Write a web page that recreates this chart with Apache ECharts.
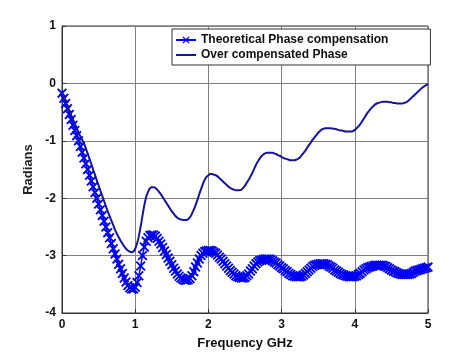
<!DOCTYPE html>
<html>
<head>
<meta charset="utf-8">
<script src="https://cdn.jsdelivr.net/npm/echarts@6/dist/echarts.min.js"></script>
<style>
html,body{margin:0;padding:0;background:#fff;}
#chart{width:474px;height:355px;}
</style>
</head>
<body>
<div id="chart"></div>
<script>
// Frequency samples (GHz)
var freq = [
0.000,0.025,0.050,0.075,0.100,0.125,0.150,0.175,0.200,0.225,0.250,0.275,0.300,0.325,0.350,0.375,0.400,0.425,0.450,0.475,
0.500,0.525,0.550,0.575,0.600,0.625,0.650,0.675,0.700,0.725,0.750,0.775,0.800,0.825,0.850,0.875,0.900,0.925,0.950,0.975,
1.000,1.025,1.050,1.075,1.100,1.125,1.150,1.175,1.200,1.225,1.250,1.275,1.300,1.325,1.350,1.375,1.400,1.425,1.450,1.475,
1.500,1.525,1.550,1.575,1.600,1.625,1.650,1.675,1.700,1.725,1.750,1.775,1.800,1.825,1.850,1.875,1.900,1.925,1.950,1.975,
2.000,2.025,2.050,2.075,2.100,2.125,2.150,2.175,2.200,2.225,2.250,2.275,2.300,2.325,2.350,2.375,2.400,2.425,2.450,2.475,
2.500,2.525,2.550,2.575,2.600,2.625,2.650,2.675,2.700,2.725,2.750,2.775,2.800,2.825,2.850,2.875,2.900,2.925,2.950,2.975,
3.000,3.025,3.050,3.075,3.100,3.125,3.150,3.175,3.200,3.225,3.250,3.275,3.300,3.325,3.350,3.375,3.400,3.425,3.450,3.475,
3.500,3.525,3.550,3.575,3.600,3.625,3.650,3.675,3.700,3.725,3.750,3.775,3.800,3.825,3.850,3.875,3.900,3.925,3.950,3.975,
4.000,4.025,4.050,4.075,4.100,4.125,4.150,4.175,4.200,4.225,4.250,4.275,4.300,4.325,4.350,4.375,4.400,4.425,4.450,4.475,
4.500,4.525,4.550,4.575,4.600,4.625,4.650,4.675,4.700,4.725,4.750,4.775,4.800,4.825,4.850,4.875,4.900,4.925,4.950,4.975,
5.000];

// Theoretical Phase compensation (radians)
var theoretical = [
-0.17,-0.26,-0.35,-0.44,-0.54,-0.63,-0.73,-0.82,-0.91,-1.00,-1.10,-1.20,-1.30,-1.40,-1.50,-1.60,-1.70,-1.80,-1.90,-2.00,
-2.10,-2.20,-2.30,-2.40,-2.50,-2.60,-2.69,-2.79,-2.88,-2.97,-3.06,-3.15,-3.23,-3.31,-3.39,-3.46,-3.52,-3.56,-3.58,-3.58,
-3.55,-3.47,-3.35,-3.18,-3.00,-2.85,-2.75,-2.69,-2.65,-2.64,-2.64,-2.66,-2.70,-2.75,-2.80,-2.86,-2.92,-2.98,-3.04,-3.10,
-3.16,-3.22,-3.27,-3.32,-3.36,-3.39,-3.41,-3.43,-3.43,-3.42,-3.40,-3.35,-3.28,-3.20,-3.13,-3.06,-3.00,-2.96,-2.93,-2.92,
-2.91,-2.91,-2.92,-2.94,-2.96,-2.99,-3.03,-3.06,-3.10,-3.14,-3.18,-3.22,-3.26,-3.29,-3.32,-3.35,-3.37,-3.38,-3.39,-3.39,
-3.38,-3.35,-3.32,-3.27,-3.23,-3.18,-3.14,-3.11,-3.09,-3.08,-3.07,-3.06,-3.06,-3.06,-3.07,-3.09,-3.11,-3.13,-3.16,-3.18,
-3.21,-3.23,-3.26,-3.28,-3.31,-3.33,-3.35,-3.36,-3.37,-3.37,-3.37,-3.36,-3.34,-3.31,-3.28,-3.25,-3.22,-3.19,-3.17,-3.16,
-3.15,-3.14,-3.14,-3.14,-3.15,-3.16,-3.18,-3.20,-3.22,-3.25,-3.27,-3.29,-3.31,-3.33,-3.34,-3.35,-3.36,-3.37,-3.37,-3.37,
-3.36,-3.35,-3.33,-3.31,-3.28,-3.25,-3.23,-3.21,-3.20,-3.19,-3.18,-3.17,-3.17,-3.17,-3.17,-3.17,-3.18,-3.19,-3.21,-3.23,
-3.25,-3.27,-3.28,-3.30,-3.31,-3.32,-3.33,-3.33,-3.33,-3.33,-3.32,-3.31,-3.29,-3.27,-3.26,-3.25,-3.24,-3.23,-3.22,-3.21,
-3.20];

// Over compensated Phase (radians)
var overComp = [
-0.17,-0.24,-0.32,-0.40,-0.48,-0.55,-0.63,-0.70,-0.78,-0.85,-0.92,-0.98,-1.05,-1.13,-1.22,-1.31,-1.40,-1.50,-1.59,-1.69,
-1.78,-1.87,-1.96,-2.05,-2.14,-2.23,-2.31,-2.39,-2.47,-2.55,-2.62,-2.68,-2.74,-2.79,-2.84,-2.88,-2.91,-2.93,-2.94,-2.93,
-2.88,-2.79,-2.66,-2.49,-2.30,-2.12,-1.98,-1.89,-1.83,-1.81,-1.81,-1.82,-1.85,-1.89,-1.93,-1.98,-2.03,-2.08,-2.13,-2.18,
-2.23,-2.27,-2.31,-2.34,-2.36,-2.37,-2.38,-2.38,-2.38,-2.36,-2.33,-2.27,-2.20,-2.12,-2.03,-1.93,-1.84,-1.75,-1.68,-1.63,
-1.60,-1.58,-1.58,-1.59,-1.60,-1.62,-1.65,-1.68,-1.71,-1.74,-1.77,-1.80,-1.82,-1.84,-1.85,-1.86,-1.86,-1.86,-1.85,-1.82,
-1.78,-1.73,-1.68,-1.62,-1.56,-1.49,-1.42,-1.36,-1.31,-1.27,-1.24,-1.22,-1.21,-1.21,-1.21,-1.21,-1.22,-1.23,-1.25,-1.26,
-1.28,-1.30,-1.31,-1.32,-1.33,-1.34,-1.34,-1.34,-1.33,-1.31,-1.29,-1.25,-1.21,-1.17,-1.12,-1.07,-1.03,-0.98,-0.94,-0.90,
-0.86,-0.83,-0.80,-0.79,-0.78,-0.78,-0.78,-0.78,-0.79,-0.79,-0.80,-0.81,-0.82,-0.82,-0.83,-0.84,-0.84,-0.84,-0.84,-0.83,
-0.81,-0.78,-0.75,-0.71,-0.66,-0.61,-0.56,-0.51,-0.47,-0.43,-0.40,-0.37,-0.35,-0.34,-0.33,-0.32,-0.32,-0.32,-0.32,-0.33,
-0.33,-0.34,-0.34,-0.35,-0.35,-0.35,-0.35,-0.34,-0.33,-0.31,-0.28,-0.25,-0.22,-0.19,-0.16,-0.13,-0.10,-0.07,-0.05,-0.03,
-0.01];

var seriesNames = ['Theoretical Phase compensation', 'Over compensated Phase'];
var xAxisName = 'Frequency GHz';
var yAxisName = 'Radians';

function pairs(xs, ys) {
  var out = [];
  for (var i = 0; i < xs.length; i++) out.push([xs[i], ys[i]]);
  return out;
}

var xMark = 'path://M0,1.3L1.3,0L5,3.7L8.7,0L10,1.3L6.3,5L10,8.7L8.7,10L5,6.3L1.3,10L0,8.7L3.7,5Z';
var fontFam = '"Liberation Sans", Arial, Helvetica, sans-serif';

var chart = echarts.init(document.getElementById('chart'), null, {renderer: 'canvas'});
chart.setOption({
  backgroundColor: '#ffffff',
  animation: false,
  grid: {
    left: 62, right: 46, top: 26, bottom: 39,
    show: true, borderColor: '#333333', borderWidth: 1, backgroundColor: 'transparent'
  },
  legend: {
    orient: 'vertical',
    left: 172, top: 29,
    padding: [5, 42, 4, 3],
    itemGap: 3,
    itemWidth: 20, itemHeight: 9,
    backgroundColor: '#ffffff',
    borderColor: '#333333', borderWidth: 1, borderRadius: 0,
    textStyle: {fontFamily: fontFam, fontWeight: 'bold', fontSize: 12, color: '#111111'},
    data: [
      {name: seriesNames[0]},
      {name: seriesNames[1], itemStyle: {opacity: 0}}
    ]
  },
  xAxis: {
    type: 'value', min: 0, max: 5, interval: 1,
    name: xAxisName, nameLocation: 'middle', nameGap: 24,
    nameTextStyle: {fontFamily: fontFam, fontWeight: 'bold', fontSize: 13, color: '#111111'},
    axisLine: {show: true, onZero: false, lineStyle: {color: '#333333'}},
    axisTick: {show: true, inside: true, length: 4, lineStyle: {color: '#333333'}},
    axisLabel: {fontFamily: fontFam, fontWeight: 'bold', fontSize: 12, color: '#111111', margin: 6},
    splitLine: {show: true, lineStyle: {color: '#808080', width: 1}}
  },
  yAxis: {
    type: 'value', min: -4, max: 1, interval: 1,
    name: yAxisName, nameLocation: 'middle', nameGap: 14, nameRotate: 90,
    nameTextStyle: {fontFamily: fontFam, fontWeight: 'bold', fontSize: 13, color: '#222222'},
    axisLine: {show: true, onZero: false, lineStyle: {color: '#333333'}},
    axisTick: {show: true, inside: true, length: 4, lineStyle: {color: '#333333'}},
    axisLabel: {fontFamily: fontFam, fontWeight: 'bold', fontSize: 12, color: '#111111', margin: 6},
    splitLine: {show: true, lineStyle: {color: '#808080', width: 1}}
  },
  series: [
    {
      name: seriesNames[0], type: 'line',
      data: pairs(freq, theoretical),
      smooth: 0.3,
      symbol: xMark, symbolSize: 10, showSymbol: true, showAllSymbol: true,
      lineStyle: {color: '#0000f0', width: 1.5},
      itemStyle: {color: '#0000f0'},
      z: 3
    },
    {
      name: seriesNames[1], type: 'line',
      data: pairs(freq, overComp),
      smooth: 0.3,
      symbol: 'none', showSymbol: false,
      lineStyle: {color: '#14149c', width: 2},
      itemStyle: {color: '#14149c'},
      z: 4
    }
  ]
});
</script>
</body>
</html>
